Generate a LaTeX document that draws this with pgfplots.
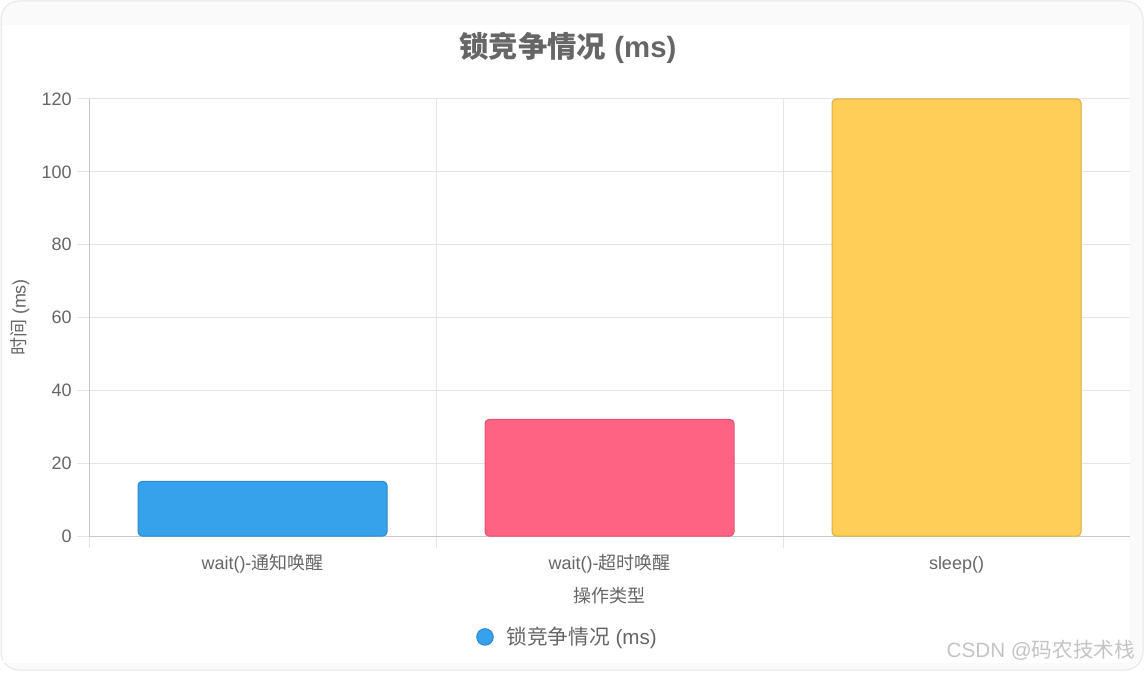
\documentclass[border=0pt]{standalone}
\usepackage{fontspec}
\setmainfont{Liberation Sans}
\newfontfamily\cjk{Noto Sans CJK SC}
\usepackage{pgfplots}
\pgfplotsset{compat=1.18}

\definecolor{txt}{HTML}{666666}
\definecolor{gridc}{HTML}{E5E5E5}
\definecolor{axisc}{HTML}{C8C8C8}
\definecolor{pagebg}{HTML}{FAFAFA}
\definecolor{cardline}{HTML}{E6E6E6}
\definecolor{cblue}{HTML}{36A2EB}
\definecolor{cblueb}{HTML}{2B8AD0}
\definecolor{cpink}{HTML}{FF6384}
\definecolor{cpinkb}{HTML}{E4506F}
\definecolor{cyell}{HTML}{FFCE56}
\definecolor{cyellb}{HTML}{D9AE45}
\definecolor{mark}{HTML}{C4C4C4}

\begin{document}
\begin{tikzpicture}
% page and card (1px = 0.75pt)
\fill[white] (0,0) rectangle (858.75pt,504pt);
\filldraw[fill=pagebg, draw=cardline, line width=0.75pt, rounded corners=13.5pt]
  (0.75pt,1.5pt) rectangle (857.25pt,503.25pt);
\fill[white] (2.25pt,6.75pt) rectangle (847.5pt,485.25pt);

\begin{axis}[
  at={(66.75pt,102pt)}, anchor=south west,
  scale only axis, width=780.75pt, height=327.75pt,
  xmin=-0.5, xmax=2.5, ymin=0, ymax=120,
  axis lines*=left,
  axis line style={axisc, line width=0.75pt},
  ytick={0,20,...,120},
  xtick={0,1,2},
  xticklabels={wait()-{\cjk 通知唤醒}, wait()-{\cjk 超时唤醒}, sleep()},
  minor xtick={-0.5,0.5,1.5},
  ymajorgrids, xminorgrids,
  major grid style={gridc, line width=0.75pt},
  minor grid style={gridc, line width=0.75pt},
  tick align=outside,
  major tick length=9pt, minor tick length=9pt,
  tick style={gridc, line width=0.75pt},
  every major x tick/.append style={draw=none},
  tick label style={font=\fontsize{13.5}{16}\selectfont, text=txt},
  /pgf/number format/assume math mode=true,
  yticklabel style={anchor=east, inner sep=0pt, xshift=-3.75pt},
  xticklabel style={anchor=north, inner sep=0pt, yshift=-5pt,
    text height=11pt, text depth=3pt},
  xlabel={{\cjk 操作类型}},
  ylabel={{\cjk 时间} (ms)},
  every axis x label/.style={at={(rel axis cs:0.5,0)}, yshift=-45pt, anchor=center,
    font=\fontsize{13.5}{16}\selectfont, text=txt},
  every axis y label/.style={at={(rel axis cs:0,0.5)}, xshift=-51.75pt, rotate=90, anchor=center,
    font=\fontsize{13.5}{16}\selectfont, text=txt},
  ybar, bar width=186.75pt, bar shift=0pt,
  legend style={at={(0.46,-0.231)}, anchor=center, draw=none, fill=none,
    font=\fontsize{15.5}{18}\selectfont, text=txt,
    /tikz/every odd column/.append style={column sep=7.5pt}},
  legend image code/.code={\filldraw[fill=cblue, draw=cblueb, line width=0.75pt] (0.45em,0) circle (6.2pt);},
]
\addplot[fill=cblue, draw=cblueb, line width=0.75pt, rounded corners=3pt] coordinates {(0,15)};
\addlegendentry{{\cjk 锁竞争情况} (ms)}
\addplot[fill=cpink, draw=cpinkb, line width=0.75pt, rounded corners=3pt, forget plot] coordinates {(1,32)};
\addplot[fill=cyell, draw=cyellb, line width=0.75pt, rounded corners=3pt, forget plot] coordinates {(2,120)};
\end{axis}

\node[font=\fontsize{22}{26}\selectfont\bfseries, text=txt] at (426pt,468pt) {{\cjk 锁竞争情况} (ms)};
\node[font=\fontsize{15.5}{18}\selectfont, text=mark, anchor=east] at (855pt,16.5pt) {CSDN @{\cjk 码农技术栈}};
\end{tikzpicture}
\end{document}
